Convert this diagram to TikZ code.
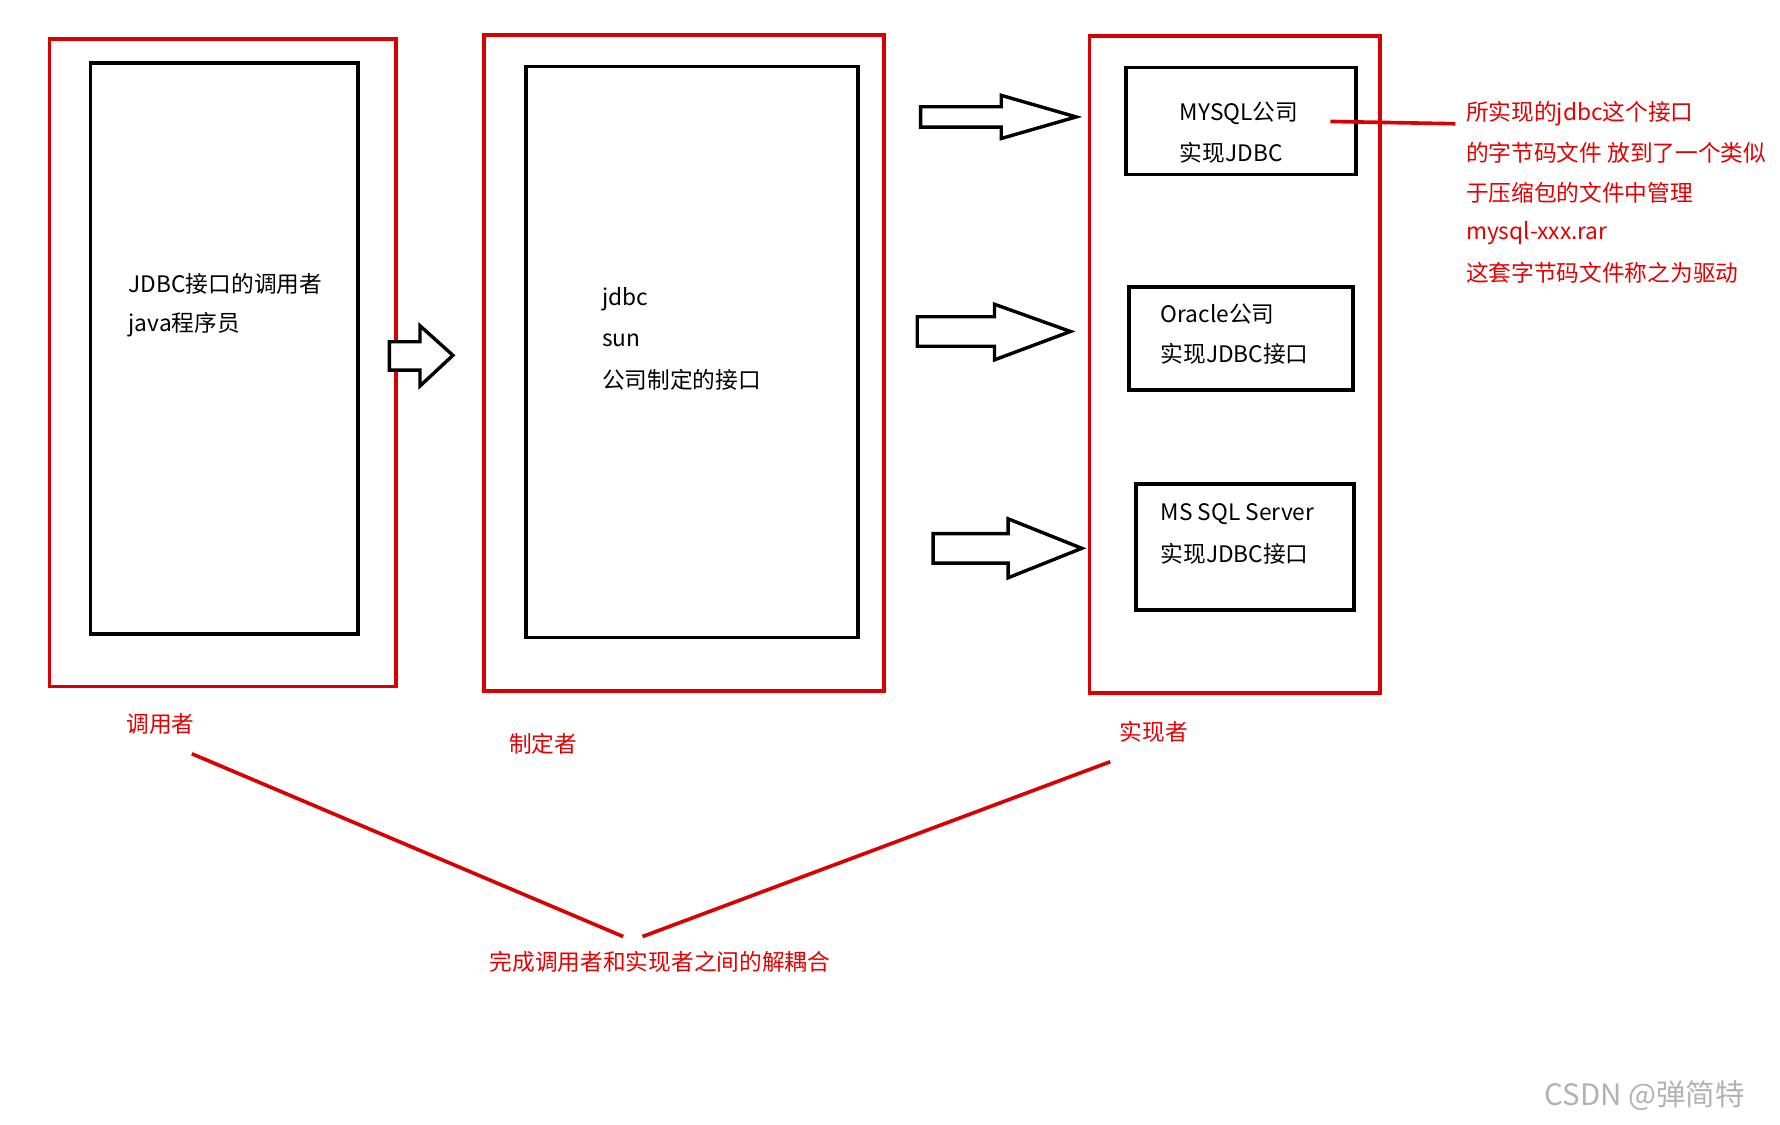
\documentclass[tikz,border=0pt]{standalone}
\usepackage{fontspec}
\setmainfont{Noto Sans CJK SC}
\begin{document}
\begin{tikzpicture}[x=0.5pt,y=-0.5pt,
  redbox/.style={draw=red!85!black,line width=1.6pt,inner sep=0pt,anchor=north west},
  blkbox/.style={draw=black,line width=1.6pt,inner sep=0pt,anchor=north west},
  txt/.style={anchor=west,inner sep=0pt,font=\fontsize{10}{12}\selectfont},
  rtxt/.style={txt,text=red!90!black},
  redline/.style={draw=red!85!black,line width=1.6pt},
  barrow/.style={draw=black,line width=1.5pt,fill=white,line join=miter}]
\useasboundingbox (0,0) rectangle (1568,991);
\node[redbox,minimum width=152.5pt,minimum height=285pt] (r1) at (42,33) {};
\node[redbox,minimum width=176pt,minimum height=289pt] (r2) at (425,29) {};
\node[redbox,minimum width=128pt,minimum height=289.5pt] (r3) at (958,30) {};
\node[blkbox,minimum width=118pt,minimum height=251.5pt] (b1) at (78,54) {};
\node[blkbox,minimum width=146pt,minimum height=251.5pt] (b2) at (462,57) {};
\node[blkbox,minimum width=101.5pt,minimum height=47pt] (m1) at (990,58) {};
\node[blkbox,minimum width=98.5pt,minimum height=45.5pt] (m2) at (993,251) {};
\node[blkbox,minimum width=96pt,minimum height=55.5pt] (m3) at (999,425) {};
\node[txt] (t1) at (113,250) {JDBC接口的调用者};
\node[txt] (t2) at (113,286) {java程序员};
\node[txt] (t3) at (530,264) {jdbc};
\node[txt] (t4) at (530,300) {sun};
\node[txt] (t5) at (530,335) {公司制定的接口};
\node[txt] (t6) at (1039,100) {MYSQL公司};
\node[txt] (t7) at (1039,135) {实现JDBC};
\node[txt] (t8) at (1022,277) {Oracle公司};
\node[txt] (t9) at (1022,312) {实现JDBC接口};
\node[txt] (t10) at (1022,453) {MS SQL Server};
\node[txt] (t11) at (1022,488) {实现JDBC接口};
\node[rtxt] (a1) at (1291,100) {所实现的jdbc这个接口};
\node[rtxt] (a2) at (1291,135) {的字节码文件 放到了一个类似};
\node[rtxt] (a3) at (1291,170) {于压缩包的文件中管理};
\node[rtxt] (a4) at (1291,205) {mysql-xxx.rar};
\node[rtxt] (a5) at (1291,240) {这套字节码文件称之为驱动};
\node[rtxt] (l1) at (111,638) {调用者};
\node[rtxt] (l2) at (448,655) {制定者};
\node[rtxt] (l3) at (986,645) {实现者};
\node[rtxt] (l4) at (431,847) {完成调用者和实现者之间的解耦合};
\node[txt,text=gray!60,font=\fontsize{13}{15}\selectfont] (wm) at (1360,965) {CSDN @弹简特};
\coordinate (c1) at (1172,107); \coordinate (c2) at (1282,109);
\draw[redline] (c1) -- (c2);
\coordinate (d1) at (169,664); \coordinate (d2) at (549,825);
\coordinate (d3) at (566,825); \coordinate (d4) at (978,671);
\draw[redline] (d1) -- (d2);
\draw[redline] (d3) -- (d4);
\draw[barrow] (343,301) -- (370,301) -- (370,287) -- (399,313) -- (370,340) -- (370,326) -- (343,326) -- cycle;
\draw[barrow] (811,94) -- (882,94) -- (882,84) -- (948,103) -- (882,122) -- (882,112) -- (811,112) -- cycle;
\draw[barrow] (808,279) -- (876,279) -- (876,268) -- (943,292) -- (876,317) -- (876,305) -- (808,305) -- cycle;
\draw[barrow] (822,470) -- (888,470) -- (888,457) -- (953,483) -- (888,509) -- (888,496) -- (822,496) -- cycle;
\end{tikzpicture}
\end{document}
